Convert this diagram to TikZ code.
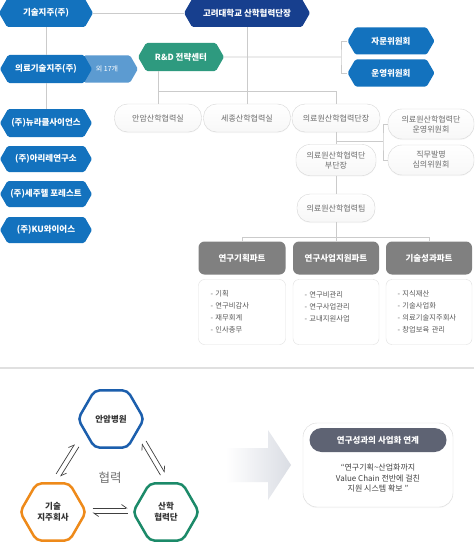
\documentclass[tikz,border=0pt]{standalone}
\usepackage{fontspec}
\setmainfont{Noto Sans CJK KR}
\usetikzlibrary{shapes.symbols,shapes.geometric,arrows.meta,positioning,calc,shadows}

\definecolor{kublue}{HTML}{1372BE}
\definecolor{kunavy}{HTML}{173F8E}
\definecolor{kulight}{HTML}{5C9BD1}
\definecolor{kuteal}{HTML}{2E9A7F}
\definecolor{partgray}{HTML}{808080}
\definecolor{linegray}{HTML}{CBCBCB}
\definecolor{pillgray}{HTML}{D6D6D6}
\definecolor{hexblue}{HTML}{1C5FAD}
\definecolor{hexorange}{HTML}{EE8A1A}
\definecolor{hexgreen}{HTML}{1C8A69}
\definecolor{slate}{HTML}{5E6373}

\tikzset{
  tagbox/.style={signal, signal to=west and east, signal pointer angle=120,
    fill=kublue, text=white, font=\fontsize{8.5}{10}\selectfont\bfseries,
    minimum height=28pt, inner sep=0pt, rounded corners=1.5pt},
  pillbox/.style={rounded corners=13pt, draw=pillgray, top color=white, bottom color=black!3,
    text=black!58, font=\fontsize{8}{10}\selectfont, minimum height=28pt,
    inner sep=0pt, align=center, drop shadow={opacity=0.06, shadow xshift=0pt, shadow yshift=-1pt}},
  link/.style={draw=linegray, line width=0.8pt},
  parthead/.style={fill=partgray, text=white, rounded corners=6pt, minimum height=33pt,
    font=\fontsize{8.5}{10}\selectfont\bfseries, inner sep=0pt},
  partlist/.style={draw=black!12, fill=white, rounded corners=6pt, minimum height=65pt,
    font=\fontsize{7.3}{12}\selectfont, text=black!65, align=left, inner xsep=11pt, text width=63pt},
  hexnode/.style={regular polygon, regular polygon sides=6, minimum size=66pt, inner sep=0pt,
    line width=2.5pt, rounded corners=5pt, fill=white, align=center, text=black!80,
    font=\fontsize{8.5}{11}\selectfont\bfseries},
  flow/.style={-{Straight Barb[harpoon,length=5pt,width=7pt]}, line width=0.7pt, black!75},
}

\begin{document}
\begin{tikzpicture}[x=1pt,y=-1pt]
    \useasboundingbox[fill=white] (0,0) rectangle (474,543);

    % organisation
    \node[tagbox, minimum width=94pt] (gijul) at (46,13) {기술지주(주)};
    \node[tagbox, fill=kunavy, minimum width=126pt] (korea) at (247,13) {고려대학교 산학협력단장};
    \node[tagbox, minimum width=86pt, fill=kuteal] (rnd) at (181,57) {R\&D 전략센터};
    \node[tagbox, minimum width=87pt, minimum height=27pt] (jamun) at (391,41) {자문위원회};
    \node[tagbox, minimum width=87pt, minimum height=27pt] (unyoung) at (391,73) {운영위원회};

    \node[tagbox, minimum width=92pt] (neuracle) at (46,123) {(주)뉴라클사이언스};
    \node[tagbox, minimum width=92pt, minimum height=26pt] (arire) at (46,159) {(주)아리레연구소};
    \node[tagbox, minimum width=92pt, minimum height=26pt] (forest) at (46,194) {(주)세주헬 포레스트};
    \node[tagbox, minimum width=92pt, minimum height=26pt] (kuwires) at (46,230) {(주)KU와이어스};

    \node[pillbox, minimum width=87pt] (annam) at (158,118) {안암산학협력실};
    \node[pillbox, minimum width=87pt] (sejong) at (247,118) {세종산학협력실};
    \node[pillbox, minimum width=88pt] (medhead) at (336,118) {의료원산학협력단장};
    \node[pillbox, minimum width=86pt, minimum height=30pt, rounded corners=14pt] (medcomm) at (431,124) {의료원산학협력단\\운영위원회};
    \node[pillbox, minimum width=86pt, minimum height=30pt, rounded corners=14pt] (jikmu) at (431,160) {직무발명\\심의위원회};
    \node[pillbox, minimum width=80pt, minimum height=31pt, rounded corners=14pt] (vice) at (336,160) {의료원산학협력단\\부단장};
    \node[pillbox, minimum width=78pt] (team) at (336,208) {의료원산학협력팀};

    \node[parthead, minimum width=87pt] (plan) at (242,258) {연구기획파트};
    \node[parthead, minimum width=86pt] (support) at (336,258) {연구사업지원파트};
    \node[parthead, minimum width=86pt] (tech) at (429,258) {기술성과파트};
    \node[partlist, minimum width=87pt] (planlist) at (242,312) {- 기획\\- 연구비감사\\- 재무회계\\- 인사총무};
    \node[partlist, minimum width=86pt] (supportlist) at (336,312) {- 연구비관리\\- 연구사업관리\\- 교내지원사업\\\mbox{}};
    \node[partlist, minimum width=86pt] (techlist) at (429,312) {- 지식재산\\- 기술사업화\\- 의료기술지주회사\\- 창업보육 관리};

    \coordinate (brA) at (341,57);
    \coordinate (tier) at (0,91);
    \coordinate (brB) at (383,141);
    \coordinate (partbar) at (0,237);

    % connectors
    \draw[link] (gijul) -- (korea);
    \draw[link] (rnd) -- (brA);
    \draw[link] (jamun.west) -| (brA) |- (unyoung.west);
    \draw[link] (annam.north |- rnd.south) -- (annam.north);
    \draw[link] (korea.south) -- (sejong.north);
    \draw[link] (annam.north |- tier) -- (medhead.north |- tier) -- (medhead.north);
    \draw[link] (medhead) -- (vice);
    \draw[link] (vice) -- (team);
    \draw[link] (medhead.south |- brB) -- (brB);
    \draw[link] (medcomm.west) -| (brB) |- (jikmu.west);
    \draw[link] (team.south) -- (team.south |- partbar);
    \draw[link] (plan.north |- partbar) -- (tech.north |- partbar);
    \foreach \p in {plan,support,tech}
      \draw[link] (\p.north |- partbar) -- (\p.north);

    \node[tagbox, fill=kulight, signal to=east, minimum width=54pt, minimum height=27pt,
      font=\fontsize{7}{9}\selectfont] (uiryoetc) at (107,69) {외 17개};
    \node[tagbox, minimum width=92pt] (uiryo) at (46,69) {의료기술지주(주)};
    \draw[link] (gijul.south) -- (uiryo.north);
    \draw[link] (uiryo.south) -- (neuracle.north);

    \draw[line width=1.5pt, black!12] (0,368) -- (474,368);

    % cooperation
    \node[hexnode, draw=hexblue] (annamhosp) at (111,419) {안암병원};
    \node[hexnode, draw=hexorange] (holding) at (53,512) {기술\\지주회사};
    \node[hexnode, draw=hexgreen] (foundation) at (166,512) {산학\\협력단};
    \node[text=black!55, font=\fontsize{12.5}{14}\selectfont] (coop) at (110,478) {협력};

    \draw[flow] ($(holding)!0.31!(annamhosp)!17.5pt!90:(annamhosp)$) -- ($(holding)!0.63!(annamhosp)!17.5pt!90:(annamhosp)$);
    \draw[flow] ($(holding)!0.63!(annamhosp)!12.5pt!90:(annamhosp)$) -- ($(holding)!0.31!(annamhosp)!12.5pt!90:(annamhosp)$);
    \draw[flow] ($(annamhosp)!0.34!(foundation)!19pt!90:(foundation)$) -- ($(annamhosp)!0.68!(foundation)!19pt!90:(foundation)$);
    \draw[flow] ($(annamhosp)!0.68!(foundation)!14pt!90:(foundation)$) -- ($(annamhosp)!0.34!(foundation)!14pt!90:(foundation)$);
    \draw[flow] ($(holding)!0.35!(foundation)!4pt!90:(foundation)$) -- ($(holding)!0.66!(foundation)!4pt!90:(foundation)$);
    \draw[flow] ($(holding)!0.66!(foundation)!-1pt!90:(foundation)$) -- ($(holding)!0.35!(foundation)!-1pt!90:(foundation)$);

    % outcome
    \shade[left color=white, right color={rgb,255:red,218;green,221;blue,228}]
      (226,448) -- (268,448) -- (268,430) -- (291,465) -- (268,500) -- (268,482) -- (226,482) -- cycle;
    \node[draw=black!15, fill=white, rounded corners=14pt, minimum width=150pt, minimum height=84pt,
      drop shadow={opacity=0.06, shadow xshift=0pt, shadow yshift=-1pt}] (resultbox) at (378,465) {};
    \node[fill=slate, text=white, rounded corners=12pt, minimum width=137pt, minimum height=24pt,
      inner sep=0pt, font=\fontsize{8.5}{10}\selectfont\bfseries] (resulthead) at (378,440) {연구성과의 사업화 연계};
    \node[text=black!75, align=center, font=\fontsize{8}{10.5}\selectfont] (resulttext) at (378,478)
      {“연구기획\textasciitilde 산업화까지\\Value Chain 전반에 걸친\\지원 시스템 확보 ”};
\end{tikzpicture}
\end{document}
